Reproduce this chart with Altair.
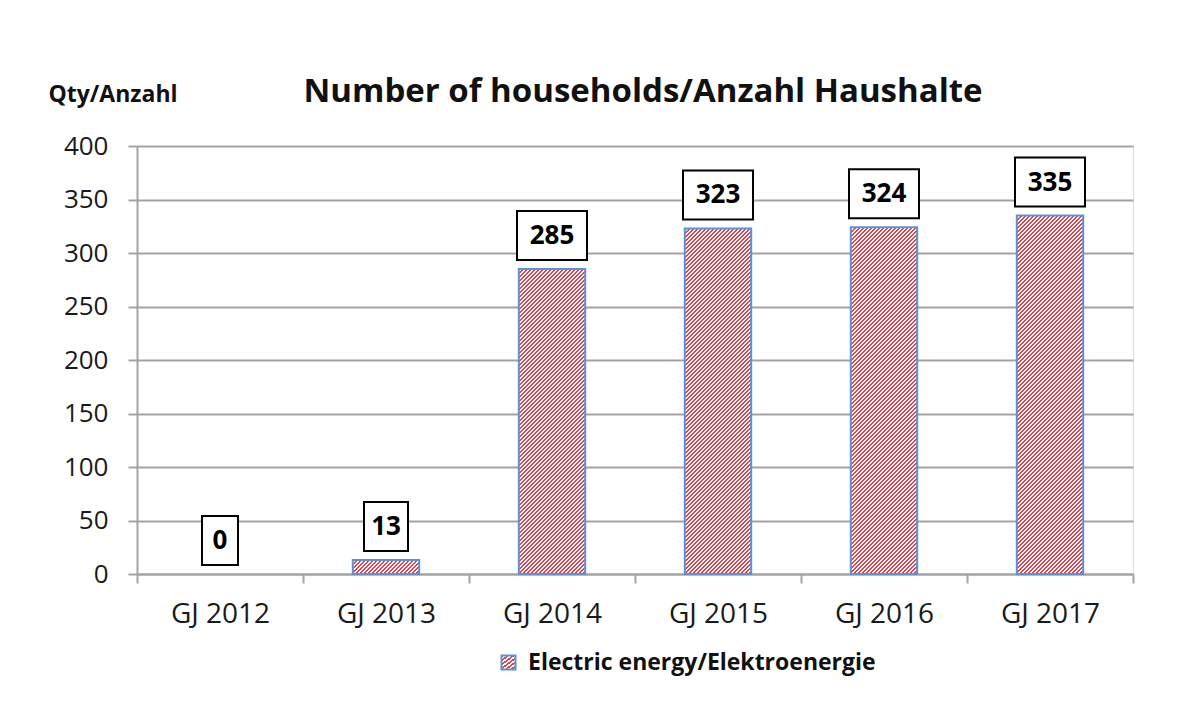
import altair as alt
import pandas as pd

categories = ["GJ 2012", "GJ 2013", "GJ 2014", "GJ 2015", "GJ 2016", "GJ 2017"]
values = [0, 13, 285, 323, 324, 335]
series_name = "Electric energy/Elektroenergie"
y_ticks = [0, 50, 100, 150, 200, 250, 300, 350, 400]

FONT = "Open Sans"
RED = "#e0414d"
WHITE = "#ffffff"
BLUE = "#5b93d3"
GRID = "#a3a3a3"

PLOT_W, PLOT_H = 996, 428
Y_MAX = 400
BAR_BAND = 0.4

df = pd.DataFrame({
    "cat": categories,
    "value": values,
    "series": [series_name] * len(categories),
    "label": [str(v) for v in values],
})
df["boxw"] = df["label"].str.len().map({1: 36, 2: 44, 3: 70})


def hatch_stops(S, period=4.0, red_frac=0.5):
    stops = []
    n = int(S / period) + 1
    for k in range(n):
        o0 = min(1.0, k * period / S)
        o1 = min(1.0, (k + red_frac) * period / S)
        o2 = min(1.0, (k + 1) * period / S)
        stops += [(o0, RED), (o1, RED), (o1, WHITE), (o2, WHITE)]
    return stops


def hatch(w, h):
    S = w + h
    t = S / (w * w + h * h)
    stops = hatch_stops(S)
    return alt.LinearGradient(
        gradient="linear", x1=0, y1=0, x2=t * w, y2=t * h,
        stops=[alt.GradientStop(offset=round(o, 5), color=c) for o, c in stops],
    )


x_enc = alt.X(
    "cat:N", sort=categories, title=None,
    scale=alt.Scale(paddingInner=0, paddingOuter=0),
    axis=alt.Axis(
        labelAngle=0, labelFont=FONT, labelFontSize=28, labelColor="#1a1a1a",
        labelPadding=17, domainColor=GRID, domainWidth=2, tickColor=GRID,
        tickWidth=2, tickSize=9, tickBand="extent", grid=False,
    ),
)
y_enc = alt.Y(
    "value:Q", title="Qty/Anzahl",
    scale=alt.Scale(domain=[0, Y_MAX], nice=False),
    axis=alt.Axis(
        values=y_ticks, labelFont=FONT, labelFontSize=26, labelColor="#1a1a1a",
        labelPadding=20, domainColor=GRID, domainWidth=2, tickColor=GRID,
        tickWidth=2, tickSize=9, gridColor=GRID, gridWidth=2,
        titleAngle=0, titleFont=FONT, titleFontSize=23, titleFontWeight="bold",
        titleColor="#111111", titleAlign="left", titleBaseline="alphabetic",
        titleX=-89, titleY=-45,
    ),
)

bw = PLOT_W / len(categories) * BAR_BAND
legend_grad = (
    "{gradient:'linear',x1:0,y1:0,x2:1,y2:1,stops:["
    + ",".join("{offset:%0.4f,color:'%s'}" % (o, c) for o, c in hatch_stops(28.0))
    + "]}"
)

stroke_enc = alt.Stroke(
    "series:N", title=None,
    scale=alt.Scale(domain=[series_name], range=[BLUE]),
    legend=alt.Legend(
        orient="none", legendX=360, legendY=505, symbolType="square",
        symbolSize=196, symbolStrokeWidth=2,
        symbolFillColor=alt.ExprRef(legend_grad),
        labelFont=FONT, labelFontSize=23, labelFontWeight="bold",
        labelColor="#111111", labelOffset=8, labelLimit=0,
    ),
)

base = alt.Chart(df)
layers = []
for cat, v in zip(categories, values):
    if v <= 0:
        continue
    h = v / Y_MAX * PLOT_H
    layers.append(
        base.transform_filter(alt.datum.cat == cat)
        .mark_bar(width={"band": BAR_BAND}, fill=hatch(bw, h), strokeWidth=2)
        .encode(x=x_enc, y=y_enc, stroke=stroke_enc)
    )

boxes = base.mark_bar(
    fill="white", stroke="black", strokeWidth=2, yOffset=-9, y2Offset=-58
).encode(x=x_enc, y=y_enc, y2="value:Q", size=alt.Size("boxw:Q", scale=None))

texts = base.mark_text(
    font=FONT, fontSize=26, fontWeight="bold", color="black",
    baseline="middle", yOffset=-33,
).encode(x=x_enc, y=y_enc, text="label:N")

chart = alt.layer(*layers, boxes, texts).properties(
    width=PLOT_W, height=PLOT_H,
    autosize="none",
    padding={"left": 129, "top": 138, "right": 59, "bottom": 139},
    title=alt.Title(
        "Number of households/Anzahl Haushalte", font=FONT, fontSize=33,
        fontWeight="bold", color="#111111", anchor="middle", dx=8, offset=38,
        dy=64,
    ),
).configure_view(stroke=None).configure(background="white")

chart.save("out.html", embed_options={"renderer": "svg", "actions": False})
